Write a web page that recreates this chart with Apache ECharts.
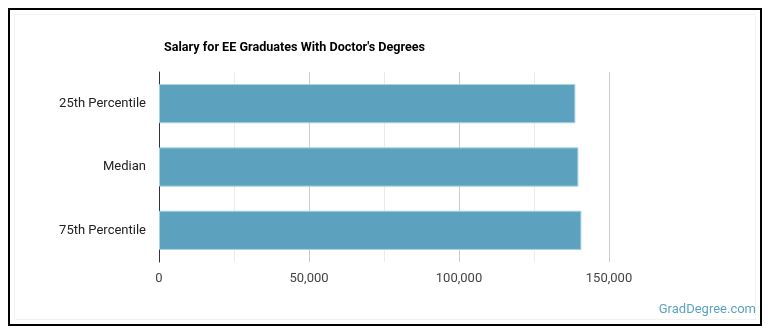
<!DOCTYPE html>
<html>
<head>
<meta charset="utf-8">
<script src="https://cdn.jsdelivr.net/npm/echarts@6/dist/echarts.min.js"></script>
<style>
html,body{margin:0;padding:0;background:#fff;}
#chart{width:770px;height:335px;}
</style>
</head>
<body>
<div id="chart"></div>
<script>
var titleText = "Salary for EE Graduates With Doctor's Degrees";
var categories = ["25th Percentile", "Median", "75th Percentile"];
var salaries = [138800, 139800, 140800];
var sourceText = "GradDegree.com";

var chart = echarts.init(document.getElementById('chart'), null, {renderer: 'canvas'});
chart.setOption({
  animation: false,
  backgroundColor: '#fff',
  title: {
    text: titleText,
    left: 159,
    top: 36,
    textStyle: {fontFamily: 'Roboto', fontWeight: 'bold', fontSize: 12.6, color: '#000'}
  },
  grid: {left: 159, right: 161, top: 72, bottom: 73, containLabel: false},
  xAxis: {
    type: 'value',
    min: 0,
    max: 150000,
    interval: 25000,
    axisLine: {show: false},
    axisTick: {show: false},
    splitLine: {show: true, lineStyle: {color: ['#cccccc', '#ebebeb'], width: 1}},
    axisLabel: {
      margin: 10,
      fontFamily: 'Roboto', fontSize: 13, color: '#444',
      formatter: function (v) { return v % 50000 === 0 ? v.toLocaleString('en-US') : ''; }
    }
  },
  yAxis: {
    type: 'category',
    data: categories,
    inverse: true,
    axisLine: {show: true, lineStyle: {color: '#333', width: 1}},
    axisTick: {show: false},
    axisLabel: {margin: 13, fontFamily: 'Roboto', fontSize: 13, color: '#222'}
  },
  series: [{
    type: 'bar',
    data: salaries,
    barWidth: '62%',
    itemStyle: {color: '#5ca2bf', borderColor: '#a8d3e0', borderWidth: 1}
  }],
  graphic: [
    {type: 'rect', shape: {x: 9, y: 9, width: 752, height: 316}, style: {fill: 'none', stroke: '#000', lineWidth: 2}, silent: true},
    {type: 'rect', shape: {x: 14.5, y: 14.5, width: 741, height: 305}, style: {fill: 'none', stroke: '#f2f2f2', lineWidth: 1}, silent: true},
    {type: 'text', right: 14, top: 303, style: {text: sourceText, fontFamily: 'Roboto', fontSize: 13, fill: '#5ca2bf'}}
  ]
});
</script>
</body>
</html>
